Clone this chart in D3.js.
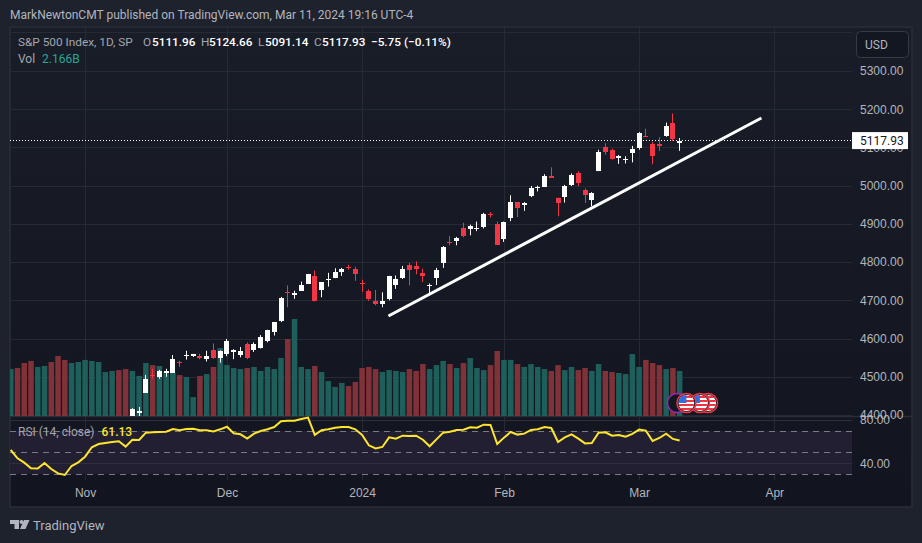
<!DOCTYPE html>
<html>
<head>
<meta charset="utf-8">
<style>
  html, body { margin: 0; padding: 0; background: #1e222d; }
  svg { display: block; font-family: Roboto, sans-serif; }
</style>
</head>
<body>
<div id="chart"></div>
<script src="https://cdn.jsdelivr.net/npm/d3@7/dist/d3.min.js"></script>
<script>
// candles start at bar 18, earlier ones sit below the visible price range
const firstCandle = 18
const opens = [4364,4406,4458,4505,4497,4509,4511,4539,4553,4555,4554,4545,4571,4548,4559,4564,4557,4586,4569,4576,4593,4618,4646,4721,4714,4725,4743,4764,4725,4753,4759,4773,4786,4782,4745,4725,4697,4690,4703,4741,4759,4792,4791,4772,4738,4760,4796,4853,4856,4888,4886,4888,4892,4925,4899,4861,4916,4957,4950,4973,4995,4997,5026,4967,4970,5003,5032,4989,4963,5038,5100,5093,5074,5067,5085,5098,5131,5110,5108,5132,5164,5111.96]
const highs = [4418,4421,4505,4521,4518,4521,4557,4542,4568,4560,4560,4568,4587,4569,4599,4572,4578,4590,4590,4609,4623,4643,4709,4739,4725,4749,4769,4778,4748,4772,4784,4785,4793,4788,4754,4729,4727,4721,4764,4765,4790,4798,4802,4783,4744,4785,4842,4868,4866,4903,4898,4906,4929,4931,4906,4906,4975,4957,4957,4999,5000,5030,5048,4969,5002,5032,5038,4993,4983,5094,5111,5097,5080,5077,5104,5140,5149,5114,5127,5165,5189,5124.66]
const lows = [4353,4393,4458,4495,4495,4500,4510,4526,4545,4552,4546,4540,4547,4537,4554,4546,4551,4546,4565,4574,4590,4608,4643,4682,4704,4725,4743,4697,4708,4736,4758,4764,4780,4751,4722,4699,4687,4682,4700,4730,4756,4739,4768,4748,4714,4740,4785,4844,4844,4865,4870,4881,4888,4917,4845,4853,4907,4918,4934,4970,4985,4997,5020,4920,4956,4999,4999,4955,4946,5038,5081,5068,5057,5058,5061,5094,5127,5056,5091,5128,5117,5091.14]
const closes = [4415,4411,4495,4502,4514,4514,4547,4537,4556,4559,4550,4554,4550,4567,4594,4569,4567,4549,4585,4604,4622,4643,4707,4719,4719,4740,4768,4698,4747,4755,4775,4781,4783,4770,4742,4705,4688,4697,4763,4756,4783,4780,4784,4765,4739,4780,4839,4850,4864,4868,4894,4890,4927,4924,4845,4906,4958,4942,4954,4995,4997,5026,5021,4953,5000,5029,5005,4975,4981,5087,5088,5069,5078,5069,5096,5137,5130,5078,5104,5157,5123,5117.93]

const volumes = [2.26,2.31,2.55,2.65,2.36,2.41,2.6,2.89,2.7,2.55,2.6,2.7,2.65,2.6,2.12,2.17,2.21,2.26,2.17,1.93,2.55,2.45,2.41,2.12,2.07,1.97,1.88,0.91,1.93,2.02,2.36,3.27,2.45,2.31,2.26,2.31,2.36,2.17,2.36,2.26,2.79,3.71,4.67,2.36,2.26,2.41,2.12,1.68,1.4,1.59,1.44,1.64,2.31,2.36,2.26,2.12,2.21,2.17,2.12,2.26,2.17,2.5,2.26,2.45,2.65,2.5,2.31,2.55,2.79,2.31,2.21,2.45,3.13,2.7,2.7,2.5,2.36,2.5,2.36,2.26,2.17,2.45,2.21,2.36,2.21,2.31,2.17,2.5,2.17,2.12,2.07,2.02,2.98,2.36,2.7,2.55,2.45,2.26,2.31,2.166]
// 1 = up day, 0 = down day
const volumeUp = [1,0,0,0,1,1,0,0,0,1,1,1,1,1,1,1,0,0,1,1,1,0,1,1,1,0,1,1,0,1,0,1,1,1,1,0,1,1,1,1,1,0,1,1,1,0,1,1,1,1,0,0,0,0,0,1,1,1,1,0,0,0,1,1,1,0,1,0,1,1,1,0,0,1,1,0,1,1,1,1,0,0,1,1,0,0,1,1,0,0,1,1,1,1,0,0,0,1,0,1]

const rsi = [52.3,44.6,40.6,35.4,35.1,40.3,34.7,30.7,29.2,37.5,40.9,46.1,54.8,57.8,58.8,59.7,60.3,55.4,61.8,61.5,68.3,68.6,68.9,69.2,71.7,70.5,71.7,72,70.5,70.5,69.5,71.4,73.8,67.7,66.8,62.8,67.4,69.8,71.4,73.5,78.8,79.4,79.4,80.9,82.2,66.2,70.5,71.4,72.9,73.5,73.5,71.4,66.2,56.6,53.8,55.1,64,62.8,65.5,65.2,65.5,61.8,55.7,62.1,68.3,69.2,70.8,71.1,73.2,72.9,75.7,75.4,57.8,63.7,68.9,66.5,67.4,70.8,71.4,73.5,72.6,59.7,64,66.8,62.8,58.4,58.8,68.3,68.6,65.5,66.2,64.6,67.1,71.1,70.1,60.6,63.4,67.4,62.5,61.13]

const priceTicks = [4400,4500,4600,4700,4800,4900,5000,5100,5200,5300]
const rsiTicks = [40,80]
const rsiLevels = [70,50,30]
const monthLabels = ['Nov','Dec','2024','Feb','Mar','Apr']
const monthBars = [11,32,52,73,93,113]
const trendBars = [55.9,111.1]
const trendPrices = [4659,5177]
const lastPrice = 5117.93
const calendarBars = [100,102,103.2]

const params = {
  width: 922,
  height: 543,
  frameLeft: 10,
  frameTop: 27,
  frameRight: 912,
  frameBottom: 507,
  paneRight: 852,
  paneSplit: 416,
  rsiBottom: 480,
}

const svg = d3.select('#chart')
  .append('svg')
  .attr('width', params.width)
  .attr('height', params.height)

const defs = svg.append('defs')
const gradient = defs.append('linearGradient')
  .attr('id', 'paneFill')
  .attr('x1', 0).attr('y1', 0).attr('x2', 0).attr('y2', 1)
gradient.append('stop').attr('offset', 0).attr('stop-color', '#191d28')
gradient.append('stop').attr('offset', 1).attr('stop-color', '#12151f')

defs.append('clipPath').attr('id', 'mainClip')
  .append('rect')
  .attr('x', params.frameLeft)
  .attr('y', params.frameTop)
  .attr('width', params.paneRight - params.frameLeft)
  .attr('height', params.paneSplit - params.frameTop)

defs.append('clipPath').attr('id', 'rsiClip')
  .append('rect')
  .attr('x', params.frameLeft)
  .attr('y', params.paneSplit)
  .attr('width', params.paneRight - params.frameLeft)
  .attr('height', params.rsiBottom - params.paneSplit)

// scales
const x = d3.scaleLinear().domain([0, 113]).range([10.75, 774.25])
const yPrice = d3.scaleLinear().domain([4400, 5300]).range([415, 71])
const yVolume = d3.scaleLinear().domain([0, 4.67]).range([params.paneSplit, 319])
const yRsi = d3.scaleLinear().domain([40, 80]).range([463.3, 420])
// keeps thin marks on whole pixels
const snap = v => Math.round(v) + 0.5

// frame
svg.append('rect')
  .attr('x', params.frameLeft)
  .attr('y', params.frameTop)
  .attr('width', params.frameRight - params.frameLeft)
  .attr('height', params.frameBottom - params.frameTop)
  .attr('fill', 'url(#paneFill)')
  .attr('stroke', '#2a2e39')
  .attr('stroke-width', 1.5)

// gridlines
const gridColor = '#262a35'
svg.append('g').selectAll('line')
  .data(monthBars)
  .enter()
  .append('line')
  .attr('x1', d => snap(x(d)))
  .attr('x2', d => snap(x(d)))
  .attr('y1', params.frameTop)
  .attr('y2', params.rsiBottom)
  .attr('stroke', gridColor)

svg.append('g').selectAll('line')
  .data(priceTicks)
  .enter()
  .append('line')
  .attr('x1', params.frameLeft)
  .attr('x2', params.paneRight)
  .attr('y1', d => snap(yPrice(d)))
  .attr('y2', d => snap(yPrice(d)))
  .attr('stroke', gridColor)

svg.append('line')
  .attr('x1', params.frameLeft)
  .attr('x2', params.paneRight)
  .attr('y1', 32.5)
  .attr('y2', 32.5)
  .attr('stroke', gridColor)

// rsi pane
svg.append('rect')
  .attr('x', params.frameLeft)
  .attr('y', yRsi(70))
  .attr('width', params.paneRight - params.frameLeft)
  .attr('height', yRsi(30) - yRsi(70))
  .attr('fill', '#231f33')

svg.append('g').selectAll('line')
  .data(rsiTicks)
  .enter()
  .append('line')
  .attr('x1', params.frameLeft)
  .attr('x2', params.paneRight)
  .attr('y1', d => snap(yRsi(d)))
  .attr('y2', d => snap(yRsi(d)))
  .attr('stroke', '#2d2f3c')

svg.append('g').selectAll('line')
  .data(rsiLevels)
  .enter()
  .append('line')
  .attr('x1', params.frameLeft)
  .attr('x2', params.paneRight)
  .attr('y1', d => snap(yRsi(d)))
  .attr('y2', d => snap(yRsi(d)))
  .attr('stroke', '#787b86')
  .attr('stroke-dasharray', '6,5')

svg.append('line')
  .attr('x1', params.frameLeft)
  .attr('x2', params.frameRight)
  .attr('y1', params.paneSplit + 0.5)
  .attr('y2', params.paneSplit + 0.5)
  .attr('stroke', '#2a2e39')
  .attr('stroke-width', 1.5)

// volume bars
const main = svg.append('g').attr('clip-path', 'url(#mainClip)')
main.append('g').selectAll('rect')
  .data(volumes)
  .enter()
  .append('rect')
  .attr('x', (d, i) => x(i) - 2.75)
  .attr('y', d => yVolume(d))
  .attr('width', 5.5)
  .attr('height', d => params.paneSplit - yVolume(d))
  .attr('fill', (d, i) => volumeUp[i] ? '#1f5f5b' : '#803238')

// candles
const candles = closes.map((c, i) => ({
  bar: firstCandle + i,
  open: opens[i],
  high: highs[i],
  low: lows[i],
  close: c,
}))
const candleColor = d => d.close >= d.open ? '#ffffff' : '#f23645'

main.append('g').selectAll('line')
  .data(candles)
  .enter()
  .append('line')
  .attr('x1', d => snap(x(d.bar) - 0.5))
  .attr('x2', d => snap(x(d.bar) - 0.5))
  .attr('y1', d => yPrice(d.high))
  .attr('y2', d => yPrice(d.low))
  .attr('stroke', candleColor)

main.append('g').selectAll('rect')
  .data(candles)
  .enter()
  .append('rect')
  .attr('x', d => snap(x(d.bar) - 0.5) - 2.5)
  .attr('y', d => Math.round(yPrice(Math.max(d.open, d.close))))
  .attr('width', 5)
  .attr('height', d => Math.max(1, Math.round(Math.abs(yPrice(d.open) - yPrice(d.close)))))
  .attr('fill', candleColor)

// trend line
main.append('line')
  .attr('x1', x(trendBars[0]))
  .attr('x2', x(trendBars[1]))
  .attr('y1', yPrice(trendPrices[0]))
  .attr('y2', yPrice(trendPrices[1]))
  .attr('stroke', '#ffffff')
  .attr('stroke-width', 3)

// last price
svg.append('line')
  .attr('x1', params.frameLeft)
  .attr('x2', params.paneRight)
  .attr('y1', Math.floor(yPrice(lastPrice)) + 0.5)
  .attr('y2', Math.floor(yPrice(lastPrice)) + 0.5)
  .attr('stroke', '#ffffff')
  .attr('stroke-dasharray', '1,2')

// calendar markers
const calendarY = 403
defs.append('clipPath').attr('id', 'flagClip')
  .append('circle').attr('cx', 0).attr('cy', 0).attr('r', 8)

function drawFlag(cx, ring, mark) {
  const flag = svg.append('g').attr('transform', `translate(${cx},${calendarY})`)
  flag.append('circle').attr('r', 9.5).attr('fill', '#131722').attr('stroke', ring).attr('stroke-width', 1.5)
  if (!mark) return
  const inner = flag.append('g').attr('clip-path', 'url(#flagClip)')
  inner.append('rect').attr('x', -8).attr('y', -8).attr('width', 16).attr('height', 16).attr('fill', '#ffffff')
  inner.selectAll('.stripe')
    .data([-7, -3, 1, 5])
    .enter()
    .append('rect')
    .attr('x', -8)
    .attr('y', d => d)
    .attr('width', 16)
    .attr('height', 2)
    .attr('fill', '#ef3340')
  inner.append('rect').attr('x', -8).attr('y', -8).attr('width', 8).attr('height', 8).attr('fill', '#2f6fe0')
}
drawFlag(x(calendarBars[2]), '#f23645', true)
drawFlag(x(calendarBars[1]), '#f23645', true)
drawFlag(x(calendarBars[0]) - 9.5, '#9c27b0', false)
drawFlag(x(calendarBars[0]), '#f23645', true)

// rsi line
const rsiLine = d3.line()
  .x((d, i) => x(i))
  .y(d => yRsi(d))

svg.append('g').attr('clip-path', 'url(#rsiClip)')
  .append('path')
  .attr('d', rsiLine(rsi))
  .attr('fill', 'none')
  .attr('stroke', '#fde52e')
  .attr('stroke-width', 2)

// axes
const labelColor = '#b2b5be'
const priceAxis = d3.axisRight(yPrice)
  .tickValues(priceTicks)
  .tickFormat(d3.format('.2f'))
  .tickSize(0)
  .tickPadding(8)
const priceG = svg.append('g').attr('transform', `translate(${params.paneRight},0)`).call(priceAxis)
priceG.select('.domain').remove()
priceG.selectAll('text').attr('fill', labelColor).style('font-size', '12px')

const rsiAxis = d3.axisRight(yRsi)
  .tickValues(rsiTicks)
  .tickFormat(d3.format('.2f'))
  .tickSize(0)
  .tickPadding(8)
const rsiG = svg.append('g').attr('transform', `translate(${params.paneRight},0)`).call(rsiAxis)
rsiG.select('.domain').remove()
rsiG.selectAll('text').attr('fill', labelColor).style('font-size', '12px')

const timeAxis = d3.axisBottom(x)
  .tickValues(monthBars)
  .tickFormat((d, i) => monthLabels[i])
  .tickSize(0)
  .tickPadding(8)
const timeG = svg.append('g').attr('transform', `translate(0,${params.rsiBottom})`).call(timeAxis)
timeG.select('.domain').remove()
timeG.selectAll('text').attr('fill', labelColor).style('font-size', '12px')

// last price tag
svg.append('rect')
  .attr('x', params.paneRight)
  .attr('y', yPrice(lastPrice) - 8.5)
  .attr('width', 56)
  .attr('height', 17)
  .attr('fill', '#ffffff')

svg.append('text')
  .attr('x', 860)
  .attr('y', yPrice(lastPrice) + 4.5)
  .attr('fill', '#131722')
  .style('font-size', '12px')
  .text(d3.format('.2f')(lastPrice))

// currency button
svg.append('rect')
  .attr('x', 856.5)
  .attr('y', 31.5)
  .attr('width', 52)
  .attr('height', 26)
  .attr('rx', 4)
  .attr('fill', '#131722')
  .attr('stroke', '#363a45')

svg.append('text')
  .attr('x', 865)
  .attr('y', 49)
  .attr('fill', labelColor)
  .style('font-size', '12px')
  .text('USD')

// title and legends
svg.append('text')
  .attr('x', 10)
  .attr('y', 19)
  .attr('fill', '#b2b5be')
  .style('font-size', '12px')
  .text('MarkNewtonCMT published on TradingView.com, Mar 11, 2024 19:16 UTC-4')

const legendLabel = '#a3a6af'
const legendValue = '#ffffff'
const legendBits = [
  ['S&P 500 Index, 1D, SP', 18, legendLabel, 400],
  ['O', 143, legendLabel, 400],
  ['5111.96', 152, legendValue, 500],
  ['H', 201, legendLabel, 400],
  ['5124.66', 209, legendValue, 500],
  ['L', 258, legendLabel, 400],
  ['5091.14', 265, legendValue, 500],
  ['C', 314, legendLabel, 400],
  ['5117.93', 322, legendValue, 500],
  ['\u22125.75 (\u22120.11%)', 371, legendValue, 500],
]
svg.append('g').selectAll('text')
  .data(legendBits)
  .enter()
  .append('text')
  .attr('x', d => d[1])
  .attr('y', 46)
  .attr('fill', d => d[2])
  .attr('font-weight', d => d[3])
  .style('font-size', '11.8px')
  .text(d => d[0])

svg.append('text').attr('x', 18).attr('y', 63).attr('fill', legendLabel).style('font-size', '12px').text('Vol')
svg.append('text').attr('x', 42).attr('y', 63).attr('fill', '#26a69a').style('font-size', '12px').text('2.166B')

svg.append('text').attr('x', 18).attr('y', 436).attr('fill', legendLabel).style('font-size', '12px').text('RSI (14, close)')
svg.append('text').attr('x', 101.5).attr('y', 436).attr('fill', '#fde52e').attr('font-weight', 500).style('font-size', '12px').text('61.13')

// logo
const logo = svg.append('g').attr('transform', 'translate(10,519)').attr('fill', '#b2b5be')
logo.append('path').attr('d', 'M0 1H9V10H4.5V5H0Z')
logo.append('circle').attr('cx', 11.5).attr('cy', 3).attr('r', 2)
logo.append('path').attr('d', 'M14 1H19.5L15.5 10H10Z')

svg.append('text')
  .attr('x', 33)
  .attr('y', 530)
  .attr('fill', '#b2b5be')
  .style('font-size', '13px')
  .text('TradingView')
</script>
</body>
</html>
